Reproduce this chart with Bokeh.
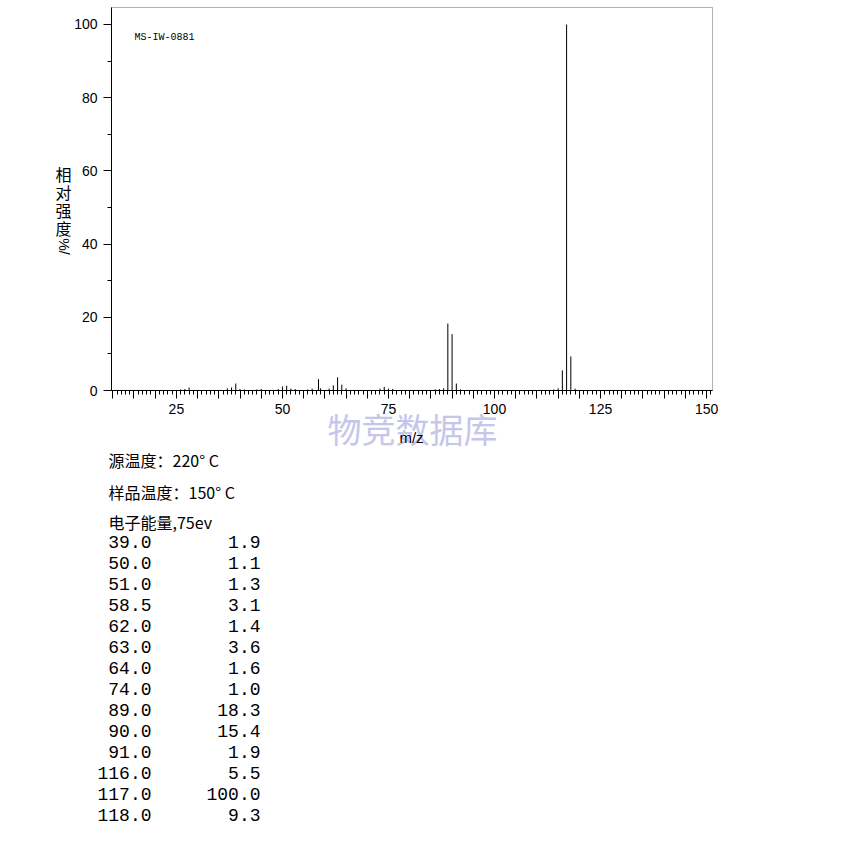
import math
from bokeh.plotting import figure
from bokeh.models import (Range1d, FixedTicker, Label, LabelSet, ColumnDataSource,
                          BoxAnnotation)
from bokeh.core.properties import value
from bokeh.embed import file_html
from bokeh.resources import INLINE

# ---- spectrum data (m/z, relative intensity %) ----
mz = [26, 27, 28, 37, 38, 39, 40, 41, 44, 45, 49, 50, 51, 52, 53, 56, 57, 58.5, 59,
      61, 62, 63, 64, 65, 73, 74, 75, 76, 86, 87, 88, 89, 90, 91, 92,
      114, 115, 116, 117, 118, 119]
intensity = [0.3, 0.4, 0.8, 0.6, 0.8, 1.9, 0.4, 0.3, 0.3, 0.4, 0.4, 1.1, 1.3, 0.5, 0.4, 0.3, 0.5, 3.1, 0.6,
             0.5, 1.4, 3.6, 1.6, 0.6, 0.5, 1.0, 0.5, 0.4, 0.3, 0.4, 0.6, 18.3, 15.4, 1.9, 0.3,
             0.3, 0.6, 5.5, 100.0, 9.3, 0.5]

# ---- peak table ----
table_mz = [39.0, 50.0, 51.0, 58.5, 62.0, 63.0, 64.0, 74.0, 89.0, 90.0, 91.0, 116.0, 117.0, 118.0]
table_int = [1.9, 1.1, 1.3, 3.1, 1.4, 3.6, 1.6, 1.0, 18.3, 15.4, 1.9, 5.5, 100.0, 9.3]

header_lines = ["源温度：220° C", "样品温度：150° C", "电子能量,75ev"]
sample_id = "MS-IW-0881"
watermark = "物竞数据库"
y_label_chars = ["相", "对", "强", "度"]
y_label_tail = "%/"
x_label = "m/z"

x_major = list(range(10, 151, 5))
x_minor = list(range(10, 152))
x_labels = [25, 50, 75, 100, 125, 150]
y_major = [0, 20, 40, 60, 80, 100]
y_minor = [10, 30, 50, 70, 90]

# ---- geometry (page pixels) ----
W, H = 728, 830
FL, FR, FT, FB = 111, 712, 7, 390          # spectrum box edges on the page
X0, X1 = 9.7, 151.4                        # m/z span of the box
Y0, Y1 = 0.0, 104.64                       # intensity span of the box


def dx(px):
    return X0 + (px - FL) * (X1 - X0) / (FR - FL)


def dy(py):
    return Y0 + (FB - py) * (Y1 - Y0) / (FB - FT)


p = figure(width=W, height=H,
           x_range=Range1d(dx(0), dx(W)), y_range=Range1d(dy(H), dy(0)),
           output_backend="svg", toolbar_location=None,
           min_border_left=0, min_border_right=0,
           min_border_top=0, min_border_bottom=0)
p.background_fill_color = "white"
p.border_fill_color = "white"
p.outline_line_color = None
p.xgrid.visible = False
p.ygrid.visible = False

# watermark (under everything)
p.add_layout(Label(x=dx(412), y=dy(428), text=watermark, text_font="Noto Sans CJK SC",
                   text_font_size="34px", text_baseline="middle", text_align="center",
                   text_color="#c6c6ea", level="underlay"))

# spectrum box
p.add_layout(BoxAnnotation(left=X0, right=X1, bottom=Y0, top=Y1,
                           fill_alpha=0, line_color="black", line_width=1))

p.segment(x0=mz, y0=[0] * len(mz), x1=mz, y1=intensity, line_color="black", line_width=1)

xa = p.xaxis[0]
xa.fixed_location = Y0
xa.bounds = (X0, X1)
xa.ticker = FixedTicker(ticks=x_major, minor_ticks=x_minor)
xa.major_label_overrides = {t: "" for t in x_major if t not in x_labels}
xa.major_tick_out = 8
xa.major_tick_in = 0
xa.minor_tick_out = 4
xa.minor_tick_in = 0
xa.axis_line_color = "black"
xa.major_tick_line_color = "black"
xa.minor_tick_line_color = "black"
xa.major_label_text_font = "Liberation Sans"
xa.major_label_text_font_size = "14px"
xa.major_label_text_color = "black"
xa.major_label_standoff = 5

ya = p.yaxis[0]
ya.fixed_location = X0
ya.bounds = (Y0, Y1)
ya.ticker = FixedTicker(ticks=y_major, minor_ticks=y_minor)
ya.major_tick_out = 8
ya.major_tick_in = 0
ya.minor_tick_out = 4
ya.minor_tick_in = 0
ya.axis_line_color = "black"
ya.major_tick_line_color = "black"
ya.minor_tick_line_color = "black"
ya.major_label_text_font = "Liberation Sans"
ya.major_label_text_font_size = "14px"
ya.major_label_text_color = "black"
ya.major_label_standoff = 6

p.add_layout(Label(x=dx(411), y=dy(437), text=x_label, text_font="Liberation Sans",
                   text_font_size="15px", text_baseline="middle", text_align="center",
                   text_color="black"))

# y axis title, stacked characters
ysrc = ColumnDataSource(dict(x=[dx(63)] * len(y_label_chars),
                             y=[dy(173 + 18 * i) for i in range(len(y_label_chars))],
                             t=y_label_chars))
p.add_layout(LabelSet(x="x", y="y", text="t", source=ysrc,
                      text_font=value("Noto Sans CJK SC"),
                      text_font_size=value("16px"), text_align="center",
                      text_baseline="middle", text_color="black"))
p.add_layout(Label(x=dx(63), y=dy(246), text=y_label_tail, angle=-math.pi / 2,
                   text_font="Liberation Sans", text_font_size="14px",
                   text_align="center", text_baseline="middle", text_color="black"))

# sample id
p.add_layout(Label(x=dx(134), y=dy(37), text=sample_id, text_font="Liberation Mono",
                   text_font_size="10px", text_baseline="middle", text_align="left",
                   text_color="black"))

# header lines below the chart
hsrc = ColumnDataSource(dict(x=[dx(108)] * len(header_lines),
                             y=[dy(459), dy(491), dy(521)],
                             t=header_lines))
p.add_layout(LabelSet(x="x", y="y", text="t", source=hsrc,
                      text_font=value("Noto Sans CJK SC"),
                      text_font_size=value("16px"), text_align="left",
                      text_baseline="middle", text_color="black"))

# peak table
row_y = [dy(541 + 21 * i) for i in range(len(table_mz))]
c1 = ColumnDataSource(dict(x=[dx(151)] * len(table_mz), y=row_y,
                           t=[f"{m:.1f}" for m in table_mz]))
c2 = ColumnDataSource(dict(x=[dx(260)] * len(table_int), y=row_y,
                           t=[f"{v:.1f}" for v in table_int]))
for src in (c1, c2):
    p.add_layout(LabelSet(x="x", y="y", text="t", source=src,
                          text_font=value("Liberation Mono"),
                          text_font_size=value("18px"), text_align="right",
                          text_baseline="middle", text_color="black"))

open("out.html", "w").write(file_html(p, INLINE))
